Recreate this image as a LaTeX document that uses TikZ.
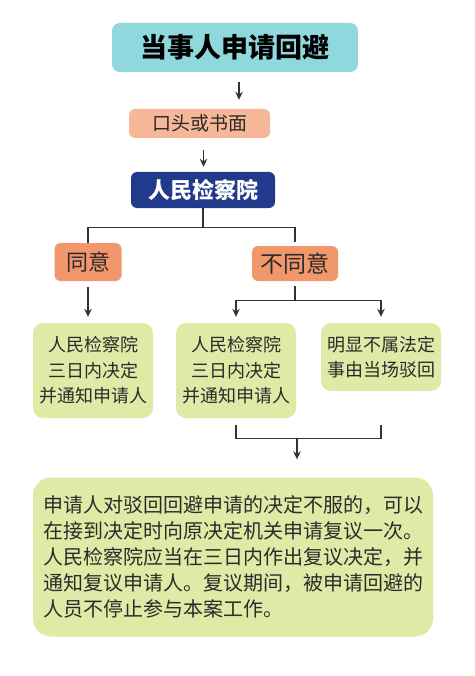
\documentclass[tikz,border=0pt]{standalone}
\usepackage{fontspec}
\setmainfont{Noto Sans CJK SC}
\usetikzlibrary{arrows.meta}
\definecolor{titlec}{HTML}{8FD8DD}
\definecolor{salmon}{HTML}{F7B899}
\definecolor{navy}{HTML}{223A8C}
\definecolor{orangec}{HTML}{F2976B}
\definecolor{greenc}{HTML}{DDEBA7}
\definecolor{txt}{HTML}{2B2B2B}
\definecolor{lnc}{HTML}{333333}
\tikzset{
  box/.style={rectangle, inner sep=0pt, align=center, text=txt},
  ln/.style={draw=lnc, line width=1.2pt},
  arr/.style={ln, -{Stealth[length=8pt,width=7.5pt]}},
}
\begin{document}
\begin{tikzpicture}[x=1pt,y=-1pt]
\useasboundingbox (0,0) rectangle (474,676);
\fill[white] (0,0) rectangle (474,676);
% nodes
\node[box, fill=titlec, rounded corners=8pt, minimum width=246pt, minimum height=49pt,
      font=\fontsize{27}{30}\selectfont\bfseries, text=black] (title) at (235,47.5) {当事人申请回避};
\node[box, fill=salmon, rounded corners=6pt, minimum width=141pt, minimum height=29pt,
      font=\fontsize{19}{22}\selectfont] (kt) at (199.5,123.5) {口头或书面};
\node[box, fill=navy, rounded corners=6pt, minimum width=144pt, minimum height=36pt,
      font=\fontsize{22}{25}\selectfont\bfseries, text=white] (rmj) at (203,190) {人民检察院};
\node[box, fill=orangec, rounded corners=6pt, minimum width=67pt, minimum height=38pt,
      font=\fontsize{22}{25}\selectfont] (ty) at (88,262) {同意};
\node[box, fill=orangec, rounded corners=6pt, minimum width=86pt, minimum height=35pt,
      font=\fontsize{23}{26}\selectfont] (bty) at (295,263.5) {不同意};
\node[box, fill=greenc, rounded corners=10pt, minimum width=120pt, minimum height=95pt,
      font=\fontsize{18}{25.5}\selectfont] (gl) at (93,370.5) {人民检察院\\三日内决定\\并通知申请人};
\node[box, fill=greenc, rounded corners=10pt, minimum width=120pt, minimum height=95pt,
      font=\fontsize{18}{25.5}\selectfont] (gm) at (236,370.5) {人民检察院\\三日内决定\\并通知申请人};
\node[box, fill=greenc, rounded corners=10pt, minimum width=120pt, minimum height=68pt,
      font=\fontsize{18}{25.5}\selectfont] (gr) at (381,357) {明显不属法定\\事由当场驳回};
\node[box, fill=greenc, rounded corners=18pt, minimum width=400pt, minimum height=159pt,
      font=\fontsize{20}{26}\selectfont, align=left] (bot) at (233,557) {申请人对驳回回避申请的决定不服的，可以\\在接到决定时向原决定机关申请复议一次。\\人民检察院应当在三日内作出复议决定，并\\通知复议申请人。复议期间，被申请回避的\\人员不停止参与本案工作。};
% connectors
\draw[arr, shorten <=10pt, shorten >=9pt] ([xshift=4pt]title.south) -- ([xshift=4pt]title.south |- kt.north);
\draw[arr, shorten <=12pt, shorten >=5pt] ([xshift=4pt]kt.south) -- ([xshift=4pt]kt.south |- rmj.north);
\coordinate (j1) at ([yshift=-19pt]rmj.south);
\draw[ln] (rmj.south) -- (j1);
\draw[ln] (ty.north) |- (j1) -| ([yshift=4pt]bty.north);
\draw[arr, shorten <=6pt, shorten >=6pt] (ty.south) -- (ty.south |- gl.north);
\coordinate (j2) at ([yshift=-19pt]bty.south);
\draw[ln] ([yshift=-5pt]bty.south) -- (j2);
\draw[arr, shorten >=6pt] (j2) -| (gm.north);
\draw[arr, shorten >=6pt] (j2) -| (gr.north);
\coordinate (j3) at ([yshift=-20pt]gm.south);
\draw[ln] ([yshift=-7pt]gm.south) -- (j3) -- (j3 -| gr.south) -- ([yshift=-34pt]gr.south);
\draw[arr, shorten >=18pt] ([xshift=2pt]j3 -| bty.south) -- ([xshift=2pt]bty.south |- bot.north);
\end{tikzpicture}
\end{document}
